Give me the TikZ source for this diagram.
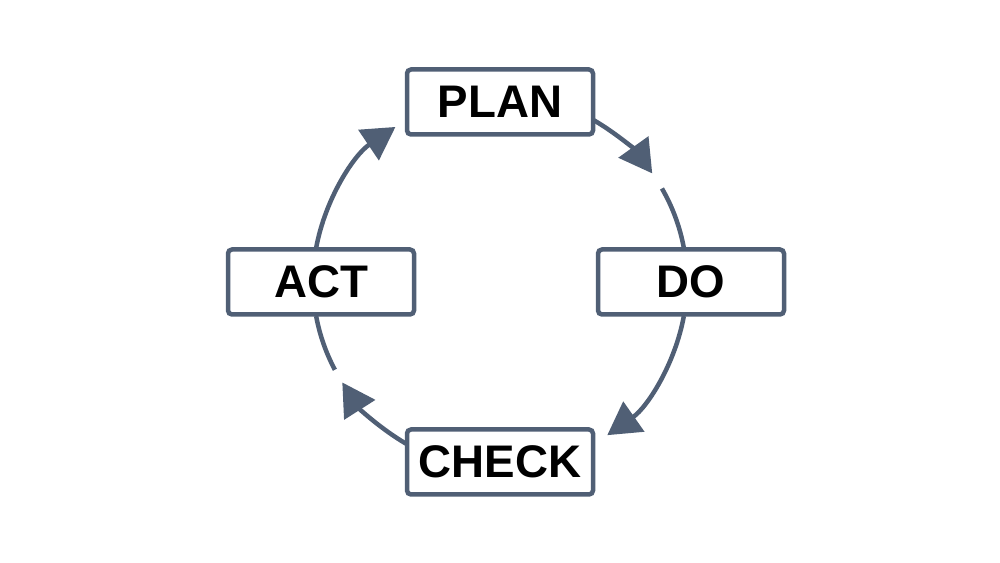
\documentclass[tikz,border=0pt]{standalone}
\usepackage{fontspec}
\setmainfont{Liberation Sans}
\usetikzlibrary{arrows.meta,calc}
\definecolor{slate}{RGB}{80,95,117}

\begin{document}
\begin{tikzpicture}[>={Triangle[length=0.65cm,width=0.72cm]},line width=0.09cm,
  main node/.style={draw=slate,rounded corners=0.08cm,fill=white,minimum width=3.72cm,minimum height=1.3cm,inner sep=0pt,text=black,font=\bfseries\fontsize{26}{30}\selectfont},
  flow/.style={->,draw=slate}]
    \useasboundingbox (0,0) rectangle (20,11.26);
    \coordinate (o) at (10,5.62);

    \node[main node] (plan) at (10,9.22) {PLAN};
    \node[main node] (do) at (13.82,5.62) {DO};
    \node[main node] (check) at (10,2.02) {CHECK};
    \node[main node] (act) at (6.42,5.62) {ACT};

    \coordinate (pd1) at ($(o)+(60:3.74)$);
    \coordinate (pd2) at ($(o)+(30:3.74)$);
    \coordinate (dc1) at ($(o)+(-10.5:3.74)$);
    \coordinate (ca1) at ($(o)+(240:3.74)$);
    \coordinate (ca2) at ($(o)+(208:3.74)$);
    \coordinate (ap1) at ($(o)+(169.5:3.74)$);

    \draw[flow] (pd1) arc[start angle=60,end angle=35.5,radius=3.74];
    \draw[slate] (pd2) arc[start angle=30,end angle=10.5,radius=3.74];
    \draw[flow] (dc1) arc[start angle=-10.5,end angle=-55,radius=3.74];
    \draw[flow] (ca1) arc[start angle=240,end angle=212.5,radius=3.74];
    \draw[slate] (ca2) arc[start angle=208,end angle=190.5,radius=3.74];
    \draw[flow] (ap1) arc[start angle=169.5,end angle=124,radius=3.74];
\end{tikzpicture}
\end{document}
